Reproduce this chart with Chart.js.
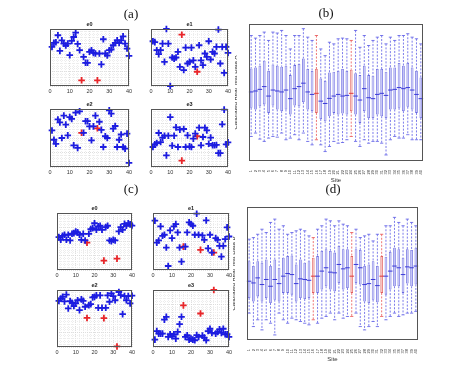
<!DOCTYPE html>
<html><head><meta charset="utf-8">
<script src="https://cdn.jsdelivr.net/npm/chart.js@4.4.1/dist/chart.umd.min.js"></script>
<style>
body{margin:0;background:#fff;width:474px;height:366px;overflow:hidden;position:relative}
canvas{position:absolute}
.lab{position:absolute;font:13px "Liberation Serif",serif;color:#111;transform:translate(-50%,-50%);white-space:nowrap;filter:grayscale(1)}
</style></head><body>
<div class="lab" style="left:131px;top:14px">(a)</div>
<div class="lab" style="left:326px;top:13px">(b)</div>
<div class="lab" style="left:131px;top:189px">(c)</div>
<div class="lab" style="left:333px;top:189px">(d)</div>
<script>
// ---------- data ----------
const sites = [1,2,3,4,5,6,7,8,9,10,11,12,13,14,15,16,17,18,19,20,21,22,23,24,25,26,27,28,29,30,31,32,33,34,35,36,37,38,39,40];
const xTickLabels = [0,10,20,30,40];
const redSitesA = [16,24];
const redSitesC = [16,25,32];

const a_e0 = [68.6,75.6,76.7,89,61.6,80,74.4,71,74.4,54,79,86,93.6,73.8,62.8,10,51,40.7,40.7,60,62.8,58,57,10,57,38,82,57,53.5,62.8,64,71.5,75.6,80,75.6,80,87,74.4,65.7,53];
const a_e1 = [78.5,77,62.8,55.8,62.8,74.4,42.4,100,74.4,0,50,48,50,60,33.7,90,28,67.4,39.5,42.4,67.4,45,33.7,25,71.5,45,36.6,57,51,78.5,46.5,60,57,68.6,99,39.5,68.6,23,68.6,58];
const a_e2 = [63,47,40,82,77,50,88.5,73,54.6,86,83,37.4,93.7,33,96,59,59,79,79,70,46,70,88.5,66.7,78,64,34.5,53,50,97.7,92,66,70.7,34.5,47,56,34.5,31.6,57.5,7];
const a_e3 = [34.5,39,41.4,58.6,43,50.6,54,20,54,86,36.8,54,68.4,34.5,64.4,11,65.5,34.5,54.6,35.6,34.5,49,57.5,53,67.8,37.4,51.7,67.8,63,40,50.6,37.4,37.4,38,24,24,73.6,99,39,42.5];
const c_e0 = [57.6,53,60,61.8,53,61.8,51.8,63.5,64.7,67.6,66,61.8,53,63.5,51.8,48,63.5,71.8,73.5,82,70.6,76.5,77.6,70.6,16.5,75.3,77.6,51.8,50.6,53,51.8,20,67.6,75.3,70.6,81,77.6,82,80,78];
const c_e1 = [86.5,48,51.8,76.5,60,61.8,39.4,7,69.4,55.9,76.5,80.6,65.9,39.4,14.7,41,41,65.9,83.5,80.6,77.6,61.8,98.8,61.8,35.3,60.6,53,87,38,61.8,30.6,30.6,55.9,53,42.4,23.5,42.4,54,74.7,58.8];
const c_e2 = [81,85,88,80,92,67.6,80.6,77.6,71.8,76.5,82,64.7,83.5,81,70.6,51,73.5,75.3,87,88,90.6,68.8,90.6,68.8,50.6,68.8,90.6,79.4,94,89.4,82,1,96.5,91,57.6,89.4,82,89.4,76.5,90];
const c_e3 = [13,28,23.5,23.5,23.5,48,53,17.6,22.4,18.8,22.4,14.7,26.5,40,53,73,17.6,20.6,13,14.7,13,11.8,21,17.6,58.8,20,16.5,11.8,28,32,24.7,100,23.5,26.5,31,24.7,32,22.4,22.4,17.6];

// box plot (b): whisker low, q1, median, q3, whisker high
const b_min = [17.9,20.4,16,14.3,16.7,17.9,17.4,20.4,15.5,16.7,19.2,15.5,20.4,14.3,11.8,15.5,11.8,6.9,10.6,14.3,13,13.5,15.5,17.9,14.3,10.6,15.5,13,14.3,14.3,13,4.4,15.5,17.9,16.7,16.7,19.2,15.5,15.5,15.5];
const b_q1  = [38.8,37.6,40,41.3,35.1,40.5,37.6,36.4,37.6,33.9,40.5,40,43,37.6,36.4,35.1,30.7,29,32.7,35.1,33.9,34.6,33.9,36.4,33.9,27.8,36.4,31.4,31.4,33.9,32.7,31.4,37.6,37.6,38.8,36.4,39.6,37.6,35.1,31.4];
const b_med = [50.4,51.1,52.3,54.3,47.4,51.8,51.1,50.4,51.8,45.5,52.8,54.3,56.8,50.4,48.6,49.4,43.7,42,45.7,47.4,48.6,47.4,47.9,49.4,47.4,44.5,52.8,46.2,45.5,48.6,49.4,47.9,51.8,52.3,53.6,52.8,53.6,51.8,48.6,45.5];
const b_q3  = [67.6,68.3,69.5,73.2,65.8,70.5,69.5,68.8,69.5,62.7,70,70.8,74.9,67.1,65.8,67.1,60.2,58.5,64.6,65.1,65.8,67.1,65.8,66.6,64.1,62.7,69.5,62.7,62.2,67.1,67.1,65.1,68.3,68.3,71.5,69.5,71.5,68.3,65.8,60.9];
const b_max = [91.6,89.7,91.6,94.1,88,94.1,93.4,95.3,91.6,81.8,91.6,91.6,96.6,90.4,88,91.6,81.8,76.9,86.7,85.5,89.2,89.7,89.2,88,95.3,83,91.6,84.3,88,90.4,91.6,85.5,90.4,88,91.6,91.6,92.9,90.4,89.2,85.5];

// box plot (d)
const d_min = [20.2,10.1,15.2,7.6,15.2,12.6,3.8,20.2,15.2,12.6,16.4,15.2,13.9,12.6,11.4,15.2,12.6,16.4,17.7,20.2,15.2,20.2,16.4,17.7,17.7,20.2,10.1,7.6,10.1,13.9,10.1,17.7,15.2,17.7,20.2,17.7,18.9,20.2,20.2,21.5];
const d_q1  = [31.6,29,32.8,29,31.6,27.8,30.3,29,35.4,35.4,34.1,29,31.6,30.8,31.6,35.4,35.4,37.9,40.4,37.9,36.6,42.9,37.9,39.1,35.4,42.9,41.7,29,27.8,30.3,28.3,35.4,34.1,37.9,40.4,40.4,35.4,42.4,40.4,41.7];
const d_med = [44.2,42.9,46.7,41.7,45.5,40.4,45.5,42.4,48,50,49.2,42.4,46,45.5,44.9,48,48,51.8,54.3,51,50.5,56.8,53.5,54.3,48,56.8,54.3,41.7,42.4,45.5,40.9,48,48,51.8,55.6,54.3,49.2,55,54.3,55.6];
const d_q3  = [59.3,55.6,59.3,58.1,60.6,55.6,60.6,54.3,61.9,63.1,63.6,56.8,60.6,58.1,59.3,61.9,63.1,66.9,68.2,66.9,65.7,70.7,68.2,68.2,63.1,68.2,67.7,55.6,56.8,59.3,55.6,63.1,62.6,66.2,69.4,68.2,61.9,68.2,67.7,69.4];
const d_max = [75.8,77,79.5,83.3,80.8,88.4,90.9,83.3,85.9,79.5,80.8,82.1,83.3,82.1,78.3,77,83.3,85.9,90.9,89.6,85.9,89.6,87.1,85.9,80.8,83.3,77,78.3,79.5,74.5,79.5,79.5,85.9,85.9,92.2,88.4,85.9,90.9,88.4,85.9];

// ---------- drawing ----------
const FONT = 'Liberation Sans';
const frame = {id:'frame', afterDraw(c){
  const a=c.chartArea, x=c.ctx; x.save(); x.strokeStyle='#555'; x.lineWidth=1;
  x.strokeRect(Math.round(a.left)+0.5, Math.round(a.top)+0.5, Math.round(a.right-a.left)-1, Math.round(a.bottom-a.top)-1);
  x.restore();
}};

function makeChart(rect, m, config){
  const cv=document.createElement('canvas');
  const W=rect[2]-rect[0]+m[0]+m[2], H=rect[3]-rect[1]+m[1]+m[3];
  cv.width=W; cv.height=H;
  cv.style.left=(rect[0]-m[0])+'px'; cv.style.top=(rect[1]-m[1])+'px';
  cv.style.width=W+'px'; cv.style.height=H+'px';
  document.body.appendChild(cv);
  Object.assign(config.options,{responsive:false,animation:false,devicePixelRatio:1,events:[]});
  let pad={left:0,right:0,top:0,bottom:0};
  config.options.layout={padding:Object.assign({},pad)};
  const ch=new Chart(cv,config);
  for(let k=0;k<4;k++){
    const a=ch.chartArea;
    pad.left += m[0]-a.left;
    pad.top += m[1]-a.top;
    pad.right += a.right-(W-m[2]);
    pad.bottom += a.bottom-(H-m[3]);
    ch.options.layout.padding=Object.assign({},pad);
    ch.update();
  }
  return ch;
}

const BLUE='#1c1ce0', RED='#e8262a';
function scatterCfg(title, vals, reds){
  const blue=[], red=[];
  sites.forEach((s,i)=>{ (reds.includes(s)?red:blue).push({x:s,y:vals[i]}); });
  const ds=(d,col)=>({data:d,pointStyle:'cross',pointRadius:3.3,pointBorderWidth:1.8,borderColor:col,backgroundColor:col,clip:false});
  const gridCol=c=>(c.tick && c.tick.value%10===0)?'#d2d2d2':'#e6e6e6';
  return {type:'scatter',
    data:{datasets:[ds(blue,BLUE),ds(red,RED)]},
    options:{
      plugins:{legend:{display:false},tooltip:{enabled:false},
        title:{display:true,text:title,font:{size:5.5,weight:'bold',family:FONT},color:'#222',padding:{top:0,bottom:1}}},
      scales:{
        x:{type:'linear',min:0,max:40,
           ticks:{stepSize:2,autoSkip:false,maxRotation:0,font:{size:5.5,family:FONT},color:'#333',padding:2,
                  callback:v=>xTickLabels.includes(v)?String(v):''},
           grid:{drawTicks:false,color:gridCol,lineWidth:0.7},border:{display:false,dash:[1,1]}},
        y:{min:0,max:100,ticks:{display:false,stepSize:5},
           grid:{drawTicks:false,color:c=>(c.tick && c.tick.value%25===0)?'#d2d2d2':'#e6e6e6',lineWidth:0.7},border:{display:false,dash:[1,1]}}
      }},
    plugins:[frame]};
}

function boxCfg(mn,q1,md,q3,mx,reds,ytitle){
  const lab=sites.map(String);
  const isR=sites.map(s=>reds.includes(s));
  const whisk=(flag)=>{const d=[]; sites.forEach((s,i)=>{ if(isR[i]!==flag) return;
      d.push({x:lab[i],y:mx[i]},{x:lab[i],y:q3[i]},{x:lab[i],y:null},{x:lab[i],y:q1[i]},{x:lab[i],y:mn[i]},{x:lab[i],y:null}); }); return d;};
  const wds=(flag,col)=>({type:'line',data:whisk(flag),borderColor:col,borderWidth:0.8,borderDash:[2,1.5],spanGaps:false,
      pointStyle:'line',pointBorderColor:col,pointBorderWidth:0.8,
      pointRadius:c=>(c.dataIndex%6===0||c.dataIndex%6===4)?1.6:0,order:0});
  return {type:'bar',
    data:{labels:lab,datasets:[
      wds(false,'#5a5ae6'), wds(true,'#e85050'),
      {type:'line',data:md,showLine:false,pointStyle:'line',pointRadius:2.3,pointBorderWidth:1,
       pointBorderColor:isR.map(r=>r?'#e03c3c':'#3a3ad8'),order:0},
      {type:'bar',data:sites.map((s,i)=>[q1[i],q3[i]]),backgroundColor:isR.map(r=>r?'rgba(245,180,175,0.85)':'rgba(185,185,245,0.85)'),
       borderColor:isR.map(r=>r?'#e06060':'#6a6ae0'),borderWidth:0.8,borderSkipped:false,barPercentage:0.62,categoryPercentage:1,order:1}
    ]},
    options:{
      plugins:{legend:{display:false},tooltip:{enabled:false}},
      scales:{
        x:{ticks:{autoSkip:false,minRotation:90,maxRotation:90,font:{size:4,family:FONT},color:'#333',padding:1},
           grid:{display:false},border:{display:false},
           title:{display:true,text:'Site',font:{size:6,family:FONT},color:'#333',padding:{top:1,bottom:0}}},
        y:{min:0,max:100,ticks:{display:false},grid:{display:false},border:{display:false},
           title:{display:true,text:ytitle,font:{size:6,family:FONT},color:'#222',padding:{top:0,bottom:2}}}
      }},
    plugins:[frame]};
}

const SM=[8,12,8,12];
makeChart([50,29,129,86],SM,scatterCfg('e0',a_e0,redSitesA));
makeChart([151,29,228,86],SM,scatterCfg('e1',a_e1,redSitesA));
makeChart([50,109,129,167],SM,scatterCfg('e2',a_e2,redSitesA));
makeChart([151,109,228,167],SM,scatterCfg('e3',a_e3,redSitesA));
makeChart([57,213,132,270],SM,scatterCfg('e0',c_e0,redSitesC));
makeChart([153,213,229,270],SM,scatterCfg('e1',c_e1,redSitesC));
makeChart([57,290,132,347],SM,scatterCfg('e2',c_e2,redSitesC));
makeChart([153,290,229,347],SM,scatterCfg('e3',c_e3,redSitesC));
makeChart([249,25,422,161],[14,6,6,22],boxCfg(b_min,b_q1,b_med,b_q3,b_max,redSitesA,'Calibrated Real Test Data A'));
makeChart([247,208,417,340],[14,6,6,22],boxCfg(d_min,d_q1,d_med,d_q3,d_max,redSitesC,'Calibrated Real Test Data B'));
</script>
</body></html>
